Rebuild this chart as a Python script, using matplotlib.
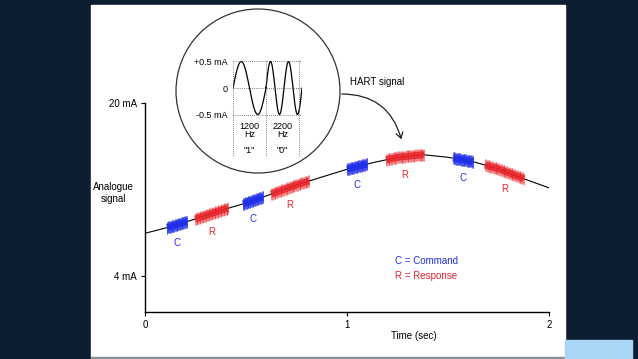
import numpy as np
import matplotlib
matplotlib.use("Agg")
from matplotlib import pyplot as plt
from matplotlib.patches import Rectangle, Circle, FancyArrowPatch

plt.rcParams['font.family'] = ['Liberation Sans', 'DejaVu Sans']

# analogue loop current (mA)
time_s = [0, 0.125, 0.25, 0.375, 0.5, 0.625, 0.75, 0.875, 1.0,
          1.125, 1.25, 1.375, 1.5, 1.625, 1.75, 1.875, 2.0]
current_ma = [7.95, 8.55, 9.28, 10.06, 10.75, 11.57, 12.42, 13.15, 13.87,
              14.47, 14.97, 15.22, 14.98, 14.57, 13.9, 13.0, 12.15]

# HART bursts: kind, start, end (sec)
burst_kind = ["C", "R", "C", "R", "C", "R", "C", "R"]
burst_start = [0.109, 0.248, 0.485, 0.624, 1.0, 1.193, 1.525, 1.683]
burst_end = [0.208, 0.411, 0.584, 0.812, 1.099, 1.381, 1.624, 1.876]

# FSK inset
bit_freq_hz = [1200, 2200]
bit_label = ['"1"', '"0"']
bit_cycles = [1, 2]

BLUE = "#1f2ee8"
RED = "#e8242a"
W, H = 638, 359

fig = plt.figure(figsize=(W / 100, H / 100), dpi=100)


def px_axes(x0, y0, x1, y1, **kw):
    return fig.add_axes([x0 / W, 1 - y1 / H, (x1 - x0) / W, (y1 - y0) / H], **kw)


# slide background
bg = fig.add_axes([0, 0, 1, 1])
bg.set_xlim(0, W)
bg.set_ylim(H, 0)
bg.axis("off")
bg.add_patch(Rectangle((0, 0), W, H, color="#0d1d31"))
bg.add_patch(Rectangle((91, 5), 474, 352, color="white"))
bg.add_patch(Rectangle((91, 357), 474, 2, color="#8a8f96"))
bg.add_patch(Rectangle((565, 340), 67, 19, color="#a9d5f6"))

# main chart
ax = px_axes(145, 103, 549, 312)
ax.patch.set_alpha(0)
ax.plot(time_s, current_ma, color="black", lw=0.8)

for kind, t0, t1 in zip(burst_kind, burst_start, burst_end):
    c = BLUE if kind == "C" else RED
    tt = np.linspace(t0, t1, 45)
    yy = np.interp(tt, time_s, current_ma)
    ax.plot(tt, yy, color=c, lw=5, alpha=0.85, solid_capstyle="butt")
    ax.plot(tt, yy, ls="none", marker="|", ms=8, mew=0.5, color=c, alpha=0.8)
    tm = (t0 + t1) / 2
    ax.annotate(kind, (tm, np.interp(tm, time_s, current_ma)), xytext=(0, -13),
                textcoords="offset points", ha="center", va="center",
                color=c, fontsize=7)

ax.set_xlim(0, 2)
ax.set_ylim(0.67, 20)
ax.spines[["top", "right"]].set_visible(False)
for s in ["left", "bottom"]:
    ax.spines[s].set_linewidth(1.0)
ax.set_xticks([0, 1, 2])
ax.set_xticklabels(["0", "1", "2"])
ax.set_yticks([4, 20])
ax.set_yticklabels(["4 mA", "20 mA"])
ax.tick_params(length=3, width=0.8, labelsize=7, pad=3)
ax.set_xlabel("Time (sec)", fontsize=7)
ax.xaxis.set_label_coords(0.666, -0.09)
ax.text(-0.079, 0.57, "Analogue\nsignal", transform=ax.transAxes,
        ha="center", va="center", fontsize=7, linespacing=1.3)
ax.text(0.62, 0.245, "C = Command", transform=ax.transAxes,
        color=BLUE, fontsize=7, va="center")
ax.text(0.62, 0.17, "R = Response", transform=ax.transAxes,
        color=RED, fontsize=7, va="center")

# magnifier circle and arrow
ov = fig.add_axes([0, 0, 1, 1])
ov.set_xlim(0, W)
ov.set_ylim(H, 0)
ov.axis("off")
ov.patch.set_alpha(0)
ov.add_patch(Circle((258, 91), 82, facecolor="white", edgecolor="#333333", lw=0.9))
ov.text(350, 82, "HART signal", fontsize=7, va="center")
ov.add_patch(FancyArrowPatch((339, 94), (402, 142), connectionstyle="arc3,rad=-0.4",
                             arrowstyle="->,head_length=4,head_width=2.5",
                             color="#222222", lw=0.9))

# FSK waveform inset
ms_per_bit = 1000 / bit_freq_hz[0]
t_ms = []
wave = []
phase0 = 0.0
for i, (f, n) in enumerate(zip(bit_freq_hz, bit_cycles)):
    dur = n * 1000 / f
    tt = np.linspace(0, dur, 200)
    t_ms.append(tt + phase0)
    wave.append(0.5 * np.sin(2 * np.pi * f * tt / 1000))
    phase0 += dur
t_ms = np.concatenate(t_ms)
wave = np.concatenate(wave)

ms_px = 33 / ms_per_bit
ai = px_axes(233, 88 - 0.55 * 53, 233 + t_ms[-1] * ms_px, 88 + 1.3 * 53)
ai.patch.set_alpha(0)
ai.set_xlim(0, t_ms[-1])
ai.set_ylim(-1.3, 0.55)
for s in ai.spines.values():
    s.set_visible(False)
ai.plot(t_ms, wave, color="black", lw=0.9)
for yv in [0.5, 0, -0.5]:
    ai.axhline(yv, color="#555555", lw=0.6, ls=(0, (1, 1.5)))
for k in range(len(bit_freq_hz) + 1):
    ai.plot([k * ms_per_bit] * 2, [0.5, -1.3], color="#555555", lw=0.6,
            ls=(0, (1, 1.5)))
for k, (f, lab) in enumerate(zip(bit_freq_hz, bit_label)):
    xc = (k + 0.5) * ms_per_bit
    ai.text(xc, -0.8, f"{f}\nHz", ha="center", va="center", fontsize=6.5,
            linespacing=0.8)
    ai.text(xc, -1.17, lab, ha="center", va="center", fontsize=6.5)
ai.set_xticks([])
ai.set_yticks([0.5, 0, -0.5])
ai.set_yticklabels(["+0.5 mA", "0", "-0.5 mA"])
ai.tick_params(length=0, labelsize=6.5, pad=4)

fig.savefig("out.png", dpi=100)
